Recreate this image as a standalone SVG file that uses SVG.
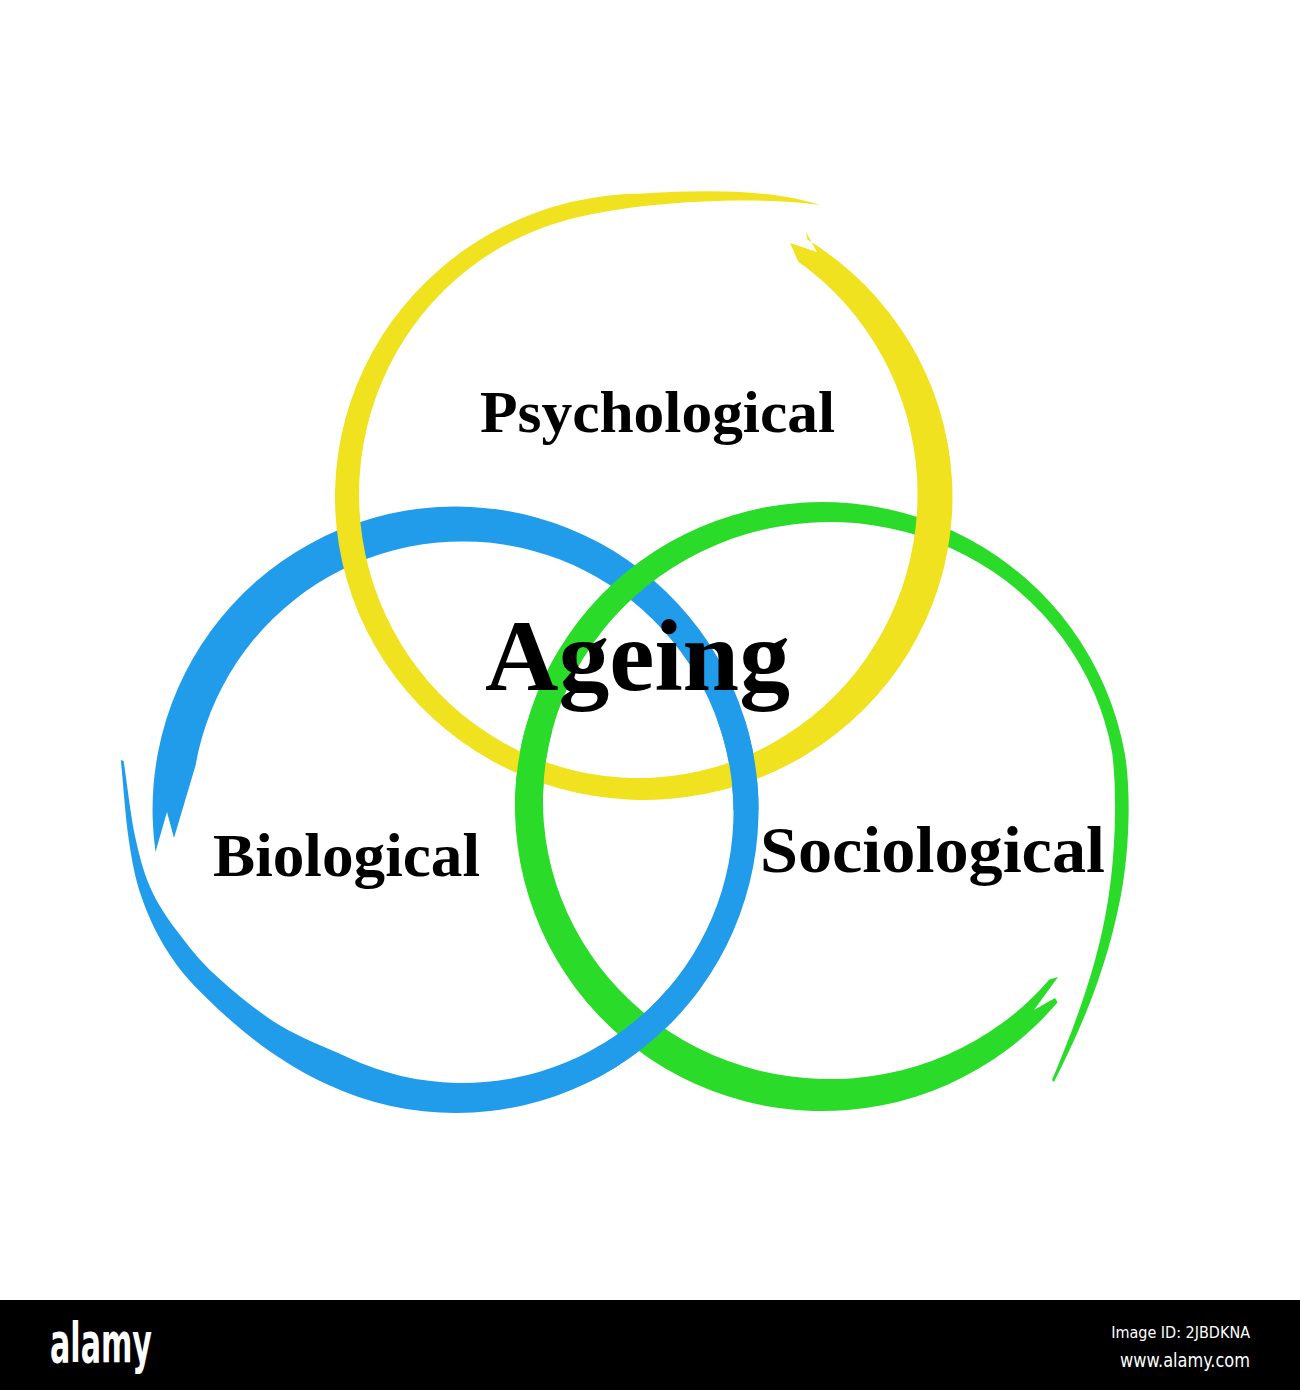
<svg xmlns="http://www.w3.org/2000/svg" width="1300" height="1390" viewBox="0 0 1300 1390">
<style>
.lbl{font-family:"Liberation Serif","Times New Roman",serif;font-weight:bold;fill:#000}
.yellow{fill:#F0E21E}
.blue{fill:#219CEB}
.green{fill:#2ADB2A}
.wm{font-family:"DejaVu Sans Condensed","DejaVu Sans","Liberation Sans",sans-serif;fill:#fff}
</style>
<defs>
<path id="ringBlue" class="blue" d="M155.5,852 A303,303.25 0 1 1 327.5,1084.6 C304.5,1073.9 283.2,1061.2 262,1045.8 C240.8,1030.4 216.6,1008.3 200.5,992 C184.4,975.7 175.3,963.9 165.4,947.9 C155.5,931.9 147.3,914.1 141.2,896.1 C135.1,878.1 132.2,862.6 128.8,839.9 C125.4,817.2 123.5,786.6 120.8,759.9 L123.6,761 C127.6,787.1 130.8,817.3 135.7,839.3 C140.6,861.3 144.8,876.3 152.8,893 C160.8,909.7 172.4,925.2 183.5,939.5 C194.6,953.8 203.4,964.5 219.4,978.8 C235.4,993.1 257.9,1012 279.3,1025.1 C300.7,1038.2 325.1,1046.9 348,1057.6 A271,270.75 0 1 0 195.6,765.2 L174,838 L167,812 Z"/>
<path id="ringGreen" class="green" d="M1057.6,1002.3 A307.25,304.5 0 1 1 1124.8,753.6 C1131,790 1130,850 1120,900 C1105,975 1080,1030 1054,1082 L1052,1080 C1075,1025 1098,965 1108,900 C1116,850 1117,790 1112.1,752.2 A286.75,278.5 0 1 0 1049.4,979.6 L1058,977 L1034,1010 L1055,998 Z"/>
<path id="ringYellow" class="yellow" d="M807.4,239.6 A308.75,303.25 0 1 1 643.75,193.5 C710,189.5 775,190 820,205 C760,196 640,200 566,220.2 A279.25,283.75 0 1 0 798.4,261.8 L790,243 L817,252 L806,232 Z"/>
<clipPath id="cutGY"><rect x="490" y="730" width="80" height="80"/></clipPath>
<clipPath id="cutBY"><rect x="700" y="720" width="90" height="90"/></clipPath>
<clipPath id="cutBG"><rect x="590" y="990" width="110" height="100"/></clipPath>
</defs>
<rect x="0" y="0" width="1300" height="1390" fill="#fff"/>
<g id="node-biological-ring"><use href="#ringBlue"/></g>
<g id="node-sociological-ring"><use href="#ringGreen"/></g>
<g id="node-psychological-ring"><use href="#ringYellow"/></g>
<g id="connectors">
<use href="#ringGreen" clip-path="url(#cutGY)"/>
<use href="#ringBlue" clip-path="url(#cutBY)"/>
<use href="#ringBlue" clip-path="url(#cutBG)"/>
</g>
<g id="node-psychological"><text class="lbl" x="480" y="432" font-size="60" textLength="355" lengthAdjust="spacingAndGlyphs">Psychological</text></g>
<g id="node-biological"><text class="lbl" x="213" y="876" font-size="62" textLength="267" lengthAdjust="spacingAndGlyphs">Biological</text></g>
<g id="node-sociological"><text class="lbl" x="760" y="872" font-size="66" textLength="345" lengthAdjust="spacingAndGlyphs">Sociological</text></g>
<g id="node-ageing"><text class="lbl" x="485" y="690" font-size="102" textLength="305" lengthAdjust="spacingAndGlyphs">Ageing</text></g>
<g id="footer">
<rect x="0" y="1300" width="1300" height="90" fill="#000"/>
<text class="wm" x="50" y="1362" font-size="56" font-weight="bold" textLength="102" lengthAdjust="spacingAndGlyphs">alamy</text>
<text class="wm" x="1250" y="1338" font-size="16" text-anchor="end">Image ID: 2JBDKNA</text>
<text class="wm" x="1250" y="1367" font-size="19" text-anchor="end" textLength="130" lengthAdjust="spacingAndGlyphs">www.alamy.com</text>
</g>
</svg>
